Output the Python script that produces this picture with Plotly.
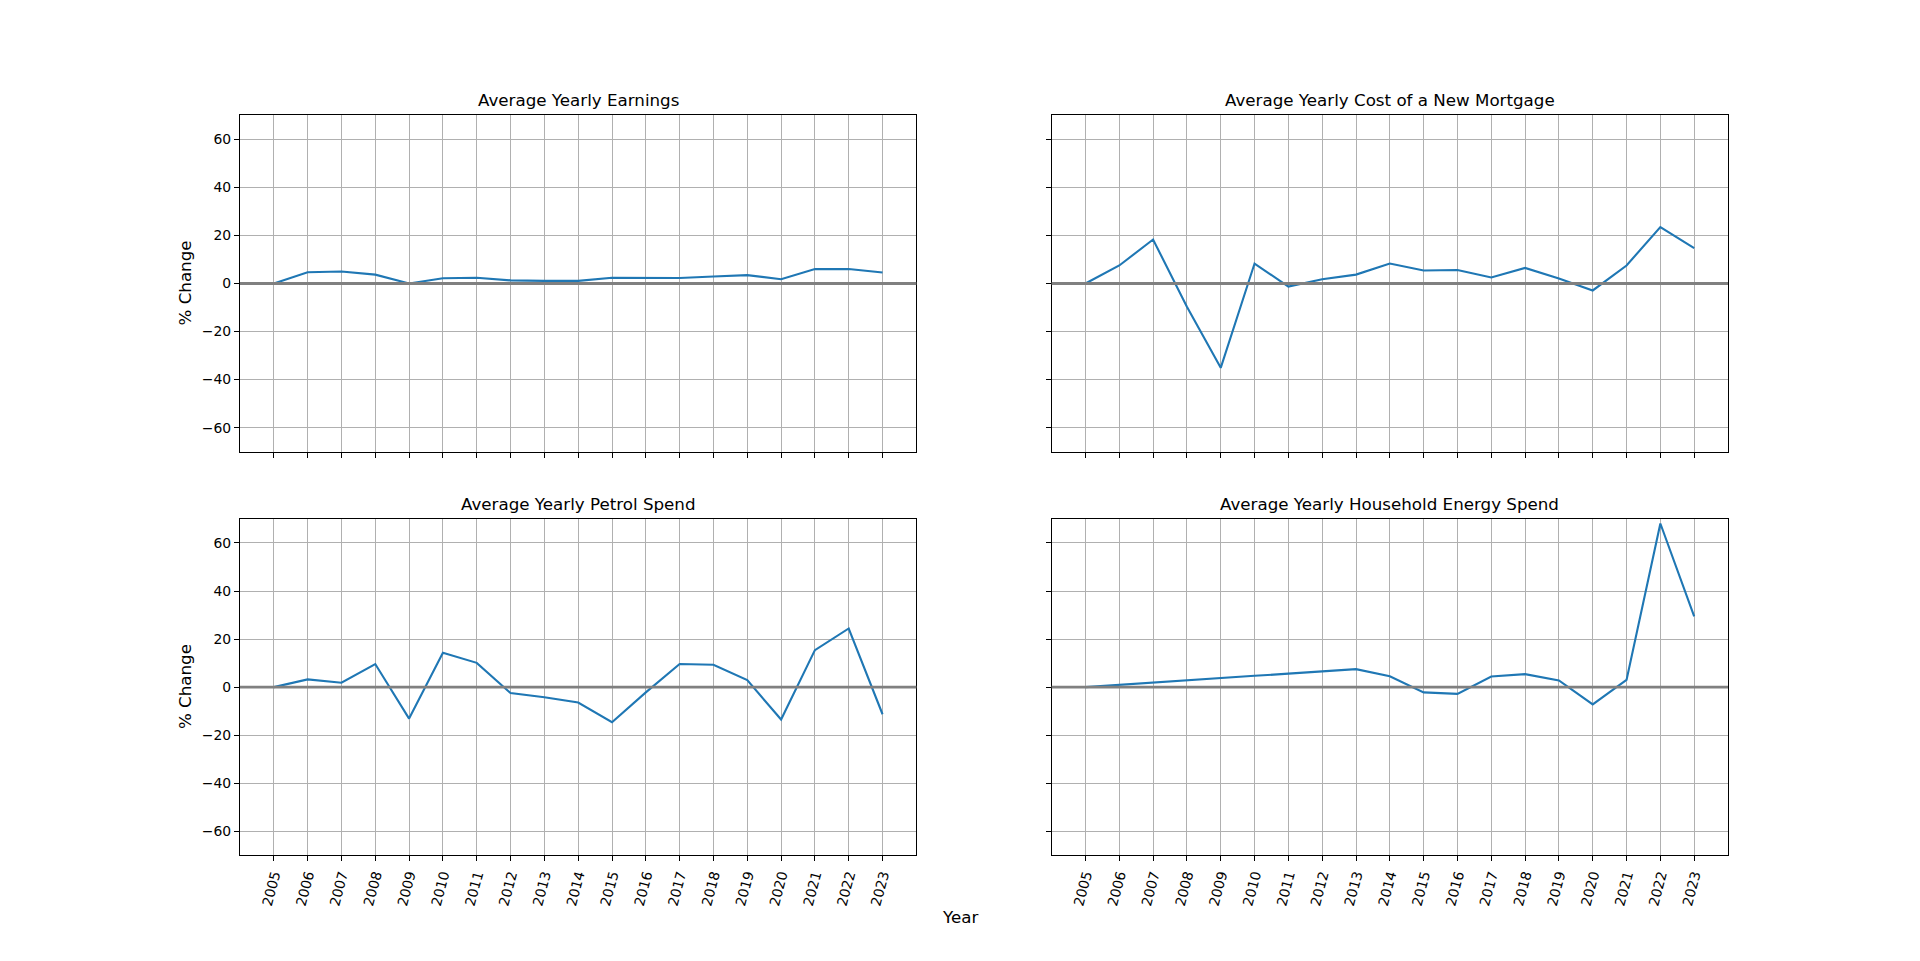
import plotly.graph_objects as go

years = list(range(2005, 2024))

earnings = [0.0, 4.7, 5.0, 3.7, 0.0, 2.2, 2.4, 1.3, 1.1, 1.1, 2.4, 2.4, 2.3, 2.9, 3.5, 1.8, 6.0, 6.0, 4.6]
mortgage = [0.0, 7.5, 18.3, -9.7, -35.1, 8.3, -1.3, 1.8, 3.7, 8.3, 5.4, 5.6, 2.5, 6.5, 2.1, -2.9, 7.5, 23.5, 14.7]
petrol = [0.0, 3.2, 1.8, 9.6, -13.1, 14.3, 10.1, -2.5, -4.2, -6.4, -14.6, -2.2, 9.6, 9.3, 2.9, -13.5, 15.4, 24.4, -11.3]
energy = [0.0, 1.0, 1.9, 2.8, 3.7, 4.7, 5.6, 6.5, 7.5, 4.5, -2.2, -2.8, 4.4, 5.4, 2.8, -7.2, 3.0, 68.1, 29.4]

titles = ["Average Yearly Earnings", "Average Yearly Cost of a New Mortgage",
          "Average Yearly Petrol Spend", "Average Yearly Household Energy Spend"]
series = [earnings, mortgage, petrol, energy]
y_ticks = [-60, -40, -20, 0, 20, 40, 60]
x_range = [2004, 2024]
y_range = [-70, 70]

W, H = 1920, 961
FONT = "DejaVu Sans"
xdoms = [[0.125, 0.47727], [0.54773, 0.9]]
ydoms = [[0.53, 0.88], [0.11, 0.46]]  # top row, bottom row

fig = go.Figure()
annotations = []
shapes = []

for i in range(4):
    r, c = divmod(i, 2)
    n = i + 1
    xa = "xaxis" if n == 1 else f"xaxis{n}"
    ya = "yaxis" if n == 1 else f"yaxis{n}"
    xref = "x" if n == 1 else f"x{n}"
    yref = "y" if n == 1 else f"y{n}"

    # zero reference line
    shapes.append(dict(type="line", xref=f"{xref} domain", yref=yref, x0=0, x1=1, y0=0, y1=0,
                       line=dict(color="#808080", width=2.8), layer="above"))

    fig.add_trace(go.Scatter(x=years, y=series[i], mode="lines", xaxis=xref, yaxis=yref,
                             line=dict(color="#1f77b4", width=2.1), showlegend=False))

    common = dict(showline=True, mirror=True, linecolor="black", linewidth=1.1,
                  showgrid=True, gridcolor="#b0b0b0", gridwidth=1.1, zeroline=False,
                  ticks="outside", ticklen=5, tickwidth=1.1, tickcolor="black",
                  tickfont=dict(family=FONT, size=13.9, color="black"))
    fig.layout[xa] = dict(domain=xdoms[c], anchor=yref, range=x_range,
                          tickmode="array", tickvals=years, ticktext=[str(y) for y in years],
                          showticklabels=(r == 1), tickangle=-75, **common)
    fig.layout[ya] = dict(domain=ydoms[r], anchor=xref, range=y_range,
                          tickmode="array", tickvals=y_ticks, ticktext=[("\u2212" + str(-v)) if v < 0 else str(v) for v in y_ticks],
                          showticklabels=(c == 0), **common)

    annotations.append(dict(text=titles[i], xref="paper", yref="paper",
                            x=(xdoms[c][0] + xdoms[c][1]) / 2, y=ydoms[r][1],
                            xanchor="center", yanchor="bottom", yshift=3, showarrow=False,
                            font=dict(family=FONT, size=16.7, color="black")))
    if c == 0:
        annotations.append(dict(text="% Change", xref="paper", yref="paper",
                                x=185 / W, y=(ydoms[r][0] + ydoms[r][1]) / 2,
                                xanchor="center", yanchor="middle", textangle=-90, showarrow=False,
                                font=dict(family=FONT, size=16.7, color="black")))

annotations.append(dict(text="Year", xref="paper", yref="paper", x=0.5, y=1 - 917 / H,
                        xanchor="center", yanchor="middle", showarrow=False,
                        font=dict(family=FONT, size=16.7, color="black")))

fig.update_layout(width=W, height=H, margin=dict(l=0, r=0, t=0, b=0),
                  paper_bgcolor="white", plot_bgcolor="white",
                  annotations=annotations, shapes=shapes,
                  font=dict(family=FONT, color="black"))

fig.write_html("out.html", config={"displayModeBar": False})
